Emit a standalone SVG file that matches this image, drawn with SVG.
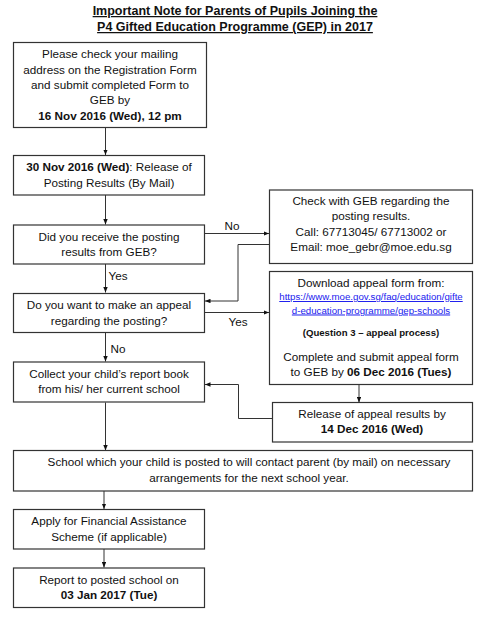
<svg xmlns="http://www.w3.org/2000/svg" width="483" height="617" viewBox="0 0 483 617">
<style>
text{font-family:"Liberation Sans",Arial,sans-serif;font-size:11.7px;fill:#111;text-anchor:middle}
.b{font-weight:bold}
.t{font-weight:bold;font-size:12.5px;text-decoration:underline}
.lnk{font-size:9.7px;fill:#1a1aee;text-decoration:underline}
.q{font-weight:bold;font-size:9.6px}
.box{fill:#fff;stroke:#333;stroke-width:1.2}
.c{fill:none;stroke:#333;stroke-width:1}
</style>
<defs>
<marker id="ah" viewBox="0 0 10 8" refX="10" refY="4" markerWidth="5.5" markerHeight="4.4" markerUnits="userSpaceOnUse" orient="auto">
<path d="M0,0L10,4L0,8z" fill="#111"/>
</marker>
</defs>
<rect width="483" height="617" fill="#fff"/>
<g id="title">
<text class="t" x="235" y="15">Important Note for Parents of Pupils Joining the</text>
<text class="t" x="235" y="31">P4 Gifted Education Programme (GEP) in 2017</text>
</g>
<g id="connectors">
<path class="c" d="M105.5,127.5V155" marker-end="url(#ah)"/>
<path class="c" d="M105.5,195V224.5" marker-end="url(#ah)"/>
<path class="c" d="M204.5,233.5H269" marker-end="url(#ah)"/>
<path class="c" d="M269.5,244.5H238V301H205" marker-end="url(#ah)"/>
<path class="c" d="M105.5,264V292.5" marker-end="url(#ah)"/>
<path class="c" d="M204.5,312.5H269" marker-end="url(#ah)"/>
<path class="c" d="M105.5,332.5V361.5" marker-end="url(#ah)"/>
<path class="c" d="M359,384.5V402.5" marker-end="url(#ah)"/>
<path class="c" d="M272.5,418.5H238.5V384.5H205" marker-end="url(#ah)"/>
<path class="c" d="M105.5,402.5V450.5" marker-end="url(#ah)"/>
<path class="c" d="M104,491V509" marker-end="url(#ah)"/>
<path class="c" d="M104,549V567.5" marker-end="url(#ah)"/>
<text x="232" y="230">No</text>
<text x="118" y="280">Yes</text>
<text x="238" y="326">Yes</text>
<text x="118" y="353">No</text>
</g>
<g id="n1">
<rect class="box" x="13.5" y="42.5" width="193" height="85"/>
<text x="110" y="58">Please check your mailing</text>
<text x="110" y="73.5">address on the Registration Form</text>
<text x="110" y="89">and submit completed Form to</text>
<text x="110" y="104">GEB by</text>
<text x="110" y="120" class="b">16 Nov 2016 (Wed), 12 pm</text>
</g>
<g id="n2">
<rect class="box" x="13.5" y="155.5" width="191" height="39.5"/>
<text x="109" y="171"><tspan class="b">30 Nov 2016 (Wed)</tspan>: Release of</text>
<text x="109" y="186.5">Posting Results (By Mail)</text>
</g>
<g id="n3">
<rect class="box" x="13.5" y="225" width="191" height="39"/>
<text x="109" y="241">Did you receive the posting</text>
<text x="109" y="256">results from GEB?</text>
</g>
<g id="n4">
<rect class="box" x="269.5" y="190" width="203" height="73.5"/>
<text x="371" y="205">Check with GEB regarding the</text>
<text x="371" y="220">posting results.</text>
<text x="371" y="235.5">Call: 67713045/ 67713002 or</text>
<text x="371" y="251">Email: moe_gebr@moe.edu.sg</text>
</g>
<g id="n5">
<rect class="box" x="13.5" y="293.5" width="191" height="39"/>
<text x="109" y="308.5">Do you want to make an appeal</text>
<text x="109" y="325">regarding the posting?</text>
</g>
<g id="n6">
<rect class="box" x="269.5" y="271.5" width="203" height="113"/>
<text x="371" y="287">Download appeal form from:</text>
<text x="371" y="300" class="lnk">https://www.moe.gov.sg/faq/education/gifte</text>
<text x="371" y="313.5" class="lnk">d-education-programme/gep-schools</text>
<text x="371" y="336" class="q">(Question 3 – appeal process)</text>
<text x="371" y="361">Complete and submit appeal form</text>
<text x="371" y="376">to GEB by <tspan class="b">06 Dec 2016 (Tues)</tspan></text>
</g>
<g id="n7">
<rect class="box" x="272.5" y="402.5" width="200" height="39.5"/>
<text x="372" y="417.5">Release of appeal results by</text>
<text x="372" y="433" class="b">14 Dec 2016 (Wed)</text>
</g>
<g id="n8">
<rect class="box" x="13.5" y="362" width="191" height="40"/>
<text x="109" y="378">Collect your child’s report book</text>
<text x="109" y="393">from his/ her current school</text>
</g>
<g id="n9">
<rect class="box" x="13.5" y="450.5" width="459" height="40.5"/>
<text x="249" y="466">School which your child is posted to will contact parent (by mail) on necessary</text>
<text x="249" y="481.5">arrangements for the next school year.</text>
</g>
<g id="n10">
<rect class="box" x="13.5" y="509.5" width="191" height="39.5"/>
<text x="109" y="525">Apply for Financial Assistance</text>
<text x="109" y="540.5">Scheme (if applicable)</text>
</g>
<g id="n11">
<rect class="box" x="13.5" y="568" width="191" height="39.5"/>
<text x="109" y="583.5">Report to posted school on</text>
<text x="109" y="599" class="b">03 Jan 2017 (Tue)</text>
</g>
</svg>
